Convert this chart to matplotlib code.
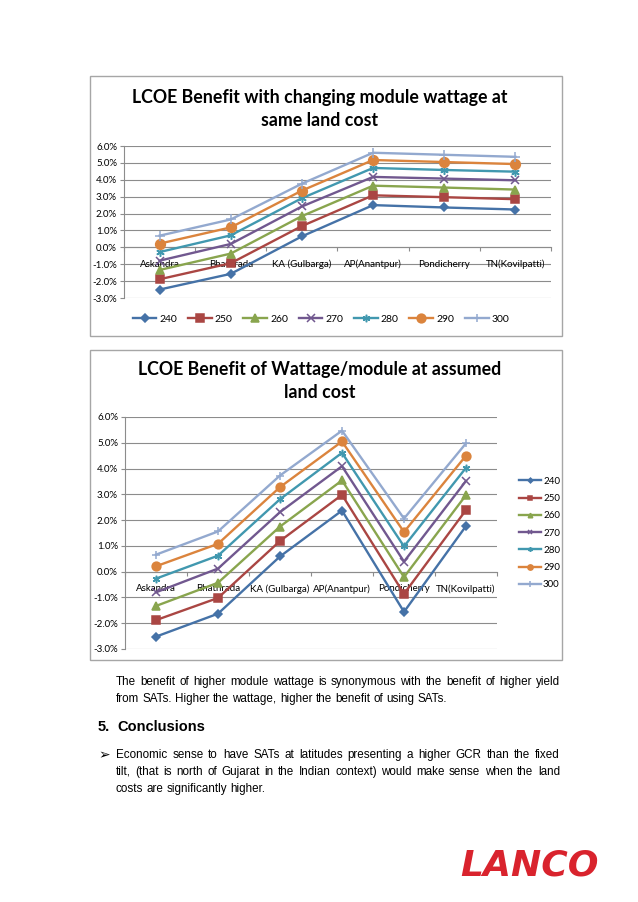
import matplotlib
matplotlib.use('Agg')
import matplotlib.pyplot as plt
from matplotlib.patches import Rectangle
from matplotlib.ticker import PercentFormatter, MultipleLocator

plt.rcParams['axes.unicode_minus'] = False

# data (values in %)
sites = ['Askandra', 'Bhathrada', 'KA (Gulbarga)', 'AP(Anantpur)', 'Pondicherry', 'TN(Kovilpatti)']
wattages = ['240', '250', '260', '270', '280', '290', '300']

same_240 = [-2.50, -1.57, 0.65, 2.50, 2.36, 2.24]
same_250 = [-1.89, -0.94, 1.26, 3.08, 2.97, 2.85]
same_260 = [-1.34, -0.37, 1.85, 3.65, 3.54, 3.42]
same_270 = [-0.79, 0.20, 2.42, 4.17, 4.07, 3.97]
same_280 = [-0.28, 0.71, 2.91, 4.70, 4.58, 4.48]
same_290 = [0.22, 1.18, 3.36, 5.17, 5.05, 4.93]
same_300 = [0.69, 1.65, 3.77, 5.60, 5.48, 5.36]

assumed_240 = [-2.52, -1.63, 0.59, 2.37, -1.56, 1.77]
assumed_250 = [-1.88, -1.02, 1.19, 2.98, -0.86, 2.39]
assumed_260 = [-1.33, -0.43, 1.75, 3.54, -0.21, 2.97]
assumed_270 = [-0.80, 0.12, 2.31, 4.09, 0.39, 3.52]
assumed_280 = [-0.27, 0.62, 2.81, 4.61, 0.98, 4.03]
assumed_290 = [0.21, 1.08, 3.28, 5.05, 1.54, 4.50]
assumed_300 = [0.66, 1.56, 3.73, 5.47, 2.06, 4.98]

para1 = ["The benefit of higher module wattage is synonymous with the benefit of higher yield",
         "from SATs. Higher the wattage, higher the benefit of using SATs."]
bullet1 = ["Economic sense to have SATs at latitudes presenting a higher GCR than the fixed",
           "tilt, (that is north of Gujarat in the Indian context) would make sense when the land",
           "costs are significantly higher."]

colors = ['#4572A7', '#AA4643', '#89A54E', '#71588F', '#4198AF', '#DB843D', '#93A9CF']
markers = ['D', 's', '^', 'x', (6, 2, 0), 'o', '+']
msizes = [4.5, 6, 6, 6, 6, 7, 7]

W, H = 638, 902
fig = plt.figure(figsize=(W / 100, H / 100), dpi=100)
fig.patch.set_facecolor('white')
grid_c = '#8c8c8c'
ui_font = ['Lato', 'DejaVu Sans']
doc_font = ['Liberation Sans', 'DejaVu Sans']


def px_box(x0, y0, x1, y1):
    return [x0 / W, 1 - y1 / H, (x1 - x0) / W, (y1 - y0) / H]


def frame(x0, y0, x1, y1):
    fig.add_artist(Rectangle((x0 / W, 1 - y1 / H), (x1 - x0) / W, (y1 - y0) / H,
                             transform=fig.transFigure, fill=False, ec='#a6a6a6', lw=1))


def line_chart(ax, series, scale):
    xs = list(range(len(sites)))
    for vals, lab, col, mk, ms in zip(series, wattages, colors, markers, msizes):
        ax.plot(xs, vals, color=col, lw=1.7, marker=mk, ms=ms * scale, mfc=col, mec=col,
                mew=1.1, label=lab, zorder=3)
    ax.set_xlim(-0.5, len(sites) - 0.5)
    ax.set_ylim(-3, 6)
    ax.yaxis.set_major_locator(MultipleLocator(1))
    ax.yaxis.set_major_formatter(PercentFormatter(decimals=1))
    ax.grid(axis='y', color=grid_c, lw=0.8)
    ax.set_axisbelow(True)
    for s in ['top', 'right']:
        ax.spines[s].set_visible(False)
    ax.spines['left'].set_color(grid_c)
    ax.spines['bottom'].set_color(grid_c)
    ax.spines['bottom'].set_position(('data', 0))
    ax.set_xticks([i - 0.5 for i in range(len(sites) + 1)])
    ax.set_xticklabels([])
    ax.tick_params(axis='x', length=3, color=grid_c)
    ax.tick_params(axis='y', length=3, color=grid_c, labelsize=7, pad=2)
    for t in ax.get_yticklabels():
        t.set_family(ui_font)
    for i, s in enumerate(sites):
        ax.annotate(s, (i, 0), xytext=(0, -12.3), textcoords='offset points',
                    ha='center', va='center', fontsize=7, family=ui_font, zorder=2)


# chart 1
frame(90, 76, 562, 336)
ax1 = fig.add_axes(px_box(124, 146, 551, 298))
line_chart(ax1, [same_240, same_250, same_260, same_270, same_280, same_290, same_300], 1.0)
fig.text(320 / W, 1 - 98 / H, 'LCOE Benefit with changing module wattage at', ha='center',
         va='center', fontsize=12.8, fontweight='bold', family=ui_font)
fig.text(320 / W, 1 - 121 / H, 'same land cost', ha='center', va='center', fontsize=12.8,
         fontweight='bold', family=ui_font)
ax1.legend(loc='center', bbox_to_anchor=(321 / W, 1 - 319 / H), bbox_transform=fig.transFigure,
           ncol=7, frameon=False, prop={'family': ui_font, 'size': 7.5}, handlelength=2.3,
           columnspacing=1.0, handletextpad=0.3, markerscale=0.9)

# chart 2
frame(90, 350, 562, 660)
ax2 = fig.add_axes(px_box(125, 417, 497, 649))
line_chart(ax2, [assumed_240, assumed_250, assumed_260, assumed_270, assumed_280, assumed_290,
                 assumed_300], 0.9)
fig.text(320 / W, 1 - 370 / H, 'LCOE Benefit of Wattage/module at assumed', ha='center',
         va='center', fontsize=12.8, fontweight='bold', family=ui_font)
fig.text(320 / W, 1 - 393 / H, 'land cost', ha='center', va='center', fontsize=12.8,
         fontweight='bold', family=ui_font)
ax2.legend(loc='center left', bbox_to_anchor=(510 / W, 1 - 533 / H), bbox_transform=fig.transFigure,
           ncol=1, frameon=False, prop={'family': ui_font, 'size': 7}, handlelength=2.3,
           labelspacing=0.85, handletextpad=0.2, markerscale=0.6)

# document text below the charts, justified word by word
renderer = fig.canvas.get_renderer()


def justified(lines, x0, x1, ys, size):
    for k, (line, y) in enumerate(zip(lines, ys)):
        words = line.split()
        texts = [fig.text(0, 1 - y / H, w, fontsize=size, family=doc_font, va='center')
                 for w in words]
        widths = [t.get_window_extent(renderer).width for t in texts]
        space = size * 0.278 * 100 / 72
        if k == len(lines) - 1:
            gap = space
        else:
            gap = max((x1 - x0 - sum(widths)) / (len(words) - 1), space * 0.6)
        x = x0
        for t, w in zip(texts, widths):
            t.set_x(x / W)
            x += w + gap


body_size = 8.4
justified(para1, 116, 560, [682, 699], body_size)
fig.text(98 / W, 1 - 727 / H, '5.', fontsize=10.5, fontweight='bold', family=doc_font, va='center')
fig.text(117 / W, 1 - 727 / H, 'Conclusions', fontsize=10.5, fontweight='bold', family=doc_font,
         va='center')
fig.text(98 / W, 1 - 755 / H, '\u27a2', fontsize=10, family=['DejaVu Sans'], va='center')
justified(bullet1, 116, 560, [755, 772, 789], body_size)

# logo
fig.text(529 / W, 1 - 866 / H, 'LANCO', color='#d9232d', fontsize=26, fontweight='heavy',
         style='italic', ha='center', va='center', family=['DejaVu Sans'])

fig.savefig('out.png', dpi=100, facecolor='white')
